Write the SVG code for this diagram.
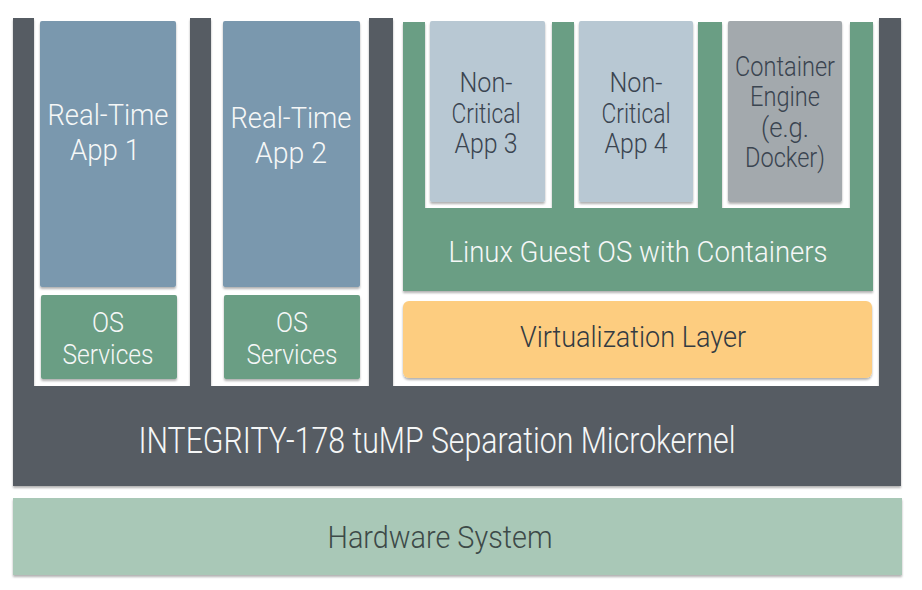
<svg xmlns="http://www.w3.org/2000/svg" width="922" height="590" viewBox="0 0 922 590">
  <defs>
    <filter id="sh" x="-5%" y="-5%" width="110%" height="115%">
      <feDropShadow dx="0" dy="2" stdDeviation="1.3" flood-color="#000" flood-opacity="0.3"/>
    </filter>
    <style>
      text { font-family: Roboto, "Liberation Sans", Arial, sans-serif; font-weight: 300; text-anchor: middle; }
      .w { fill: #f5f7f7; }
      .d { fill: #3a4450; }
      .rt { fill: #7a98ae; }
      .os { fill: #6a9e84; }
      .nc { fill: #b8c8d3; }
      .ce { fill: #a3a9ad; }
    </style>
  </defs>
  <rect x="0" y="0" width="922" height="590" fill="#ffffff"/>

  <g id="hardware">
    <rect x="13" y="498" width="889" height="77" fill="#a9c8b7" filter="url(#sh)"/>
    <text x="440" y="548" font-size="32" fill="#3d4a48" textLength="225" lengthAdjust="spacingAndGlyphs">Hardware System</text>
  </g>

  <g id="kernel">
    <path d="M13,18 H34 V386 H190 V18 H211 V386 H369 V18 H393 V386 H879 V18 H901 V486 H13 Z" fill="#565c64" filter="url(#sh)"/>
    <text class="w" x="437" y="453" font-size="37" textLength="597" lengthAdjust="spacingAndGlyphs">INTEGRITY-178 tuMP Separation Microkernel</text>
  </g>

  <g id="rt-app-1">
    <rect class="rt" x="40" y="21" width="136" height="266" rx="2" filter="url(#sh)"/>
    <text class="w" x="108" y="125" font-size="30" textLength="121" lengthAdjust="spacingAndGlyphs">Real-Time</text>
    <text class="w" x="105" y="160" font-size="30" textLength="70" lengthAdjust="spacingAndGlyphs">App 1</text>
  </g>
  <g id="os-services-1">
    <rect class="os" x="41" y="295" width="136" height="84" rx="2" filter="url(#sh)"/>
    <text class="w" x="108" y="332" font-size="27" textLength="32" lengthAdjust="spacingAndGlyphs">OS</text>
    <text class="w" x="108" y="364" font-size="27" textLength="91" lengthAdjust="spacingAndGlyphs">Services</text>
  </g>

  <g id="rt-app-2">
    <rect class="rt" x="223" y="21" width="137" height="266" rx="2" filter="url(#sh)"/>
    <text class="w" x="291" y="128" font-size="30" textLength="121" lengthAdjust="spacingAndGlyphs">Real-Time</text>
    <text class="w" x="291" y="163" font-size="30" textLength="72" lengthAdjust="spacingAndGlyphs">App 2</text>
  </g>
  <g id="os-services-2">
    <rect class="os" x="224" y="295" width="136" height="84" rx="2" filter="url(#sh)"/>
    <text class="w" x="292" y="332" font-size="27" textLength="32" lengthAdjust="spacingAndGlyphs">OS</text>
    <text class="w" x="292" y="364" font-size="27" textLength="91" lengthAdjust="spacingAndGlyphs">Services</text>
  </g>

  <g id="linux-guest-os">
    <path d="M403,22 H425 V208 H552 V22 H574 V208 H698 V22 H722 V208 H850 V22 H873 V291 H403 Z" fill="#6a9e84" filter="url(#sh)"/>
    <text class="w" x="638" y="262" font-size="30" textLength="379" lengthAdjust="spacingAndGlyphs">Linux Guest OS with Containers</text>
  </g>

  <g id="non-critical-app-3">
    <rect class="nc" x="430" y="21" width="115" height="181" rx="2" filter="url(#sh)"/>
    <text class="d" x="486" y="92" font-size="28" textLength="53" lengthAdjust="spacingAndGlyphs">Non-</text>
    <text class="d" x="486" y="123" font-size="28" textLength="69" lengthAdjust="spacingAndGlyphs">Critical</text>
    <text class="d" x="486" y="153" font-size="28" textLength="63" lengthAdjust="spacingAndGlyphs">App 3</text>
  </g>

  <g id="non-critical-app-4">
    <rect class="nc" x="579" y="21" width="114" height="181" rx="2" filter="url(#sh)"/>
    <text class="d" x="636" y="92" font-size="28" textLength="53" lengthAdjust="spacingAndGlyphs">Non-</text>
    <text class="d" x="636" y="123" font-size="28" textLength="69" lengthAdjust="spacingAndGlyphs">Critical</text>
    <text class="d" x="636" y="153" font-size="28" textLength="63" lengthAdjust="spacingAndGlyphs">App 4</text>
  </g>

  <g id="container-engine">
    <rect class="ce" x="728" y="21" width="114" height="181" rx="2" filter="url(#sh)"/>
    <text class="d" x="785" y="76" font-size="28" textLength="100" lengthAdjust="spacingAndGlyphs">Container</text>
    <text class="d" x="785" y="106" font-size="28" textLength="70" lengthAdjust="spacingAndGlyphs">Engine</text>
    <text class="d" x="785" y="137" font-size="28" textLength="48" lengthAdjust="spacingAndGlyphs">(e.g.</text>
    <text class="d" x="785" y="167" font-size="28" textLength="80" lengthAdjust="spacingAndGlyphs">Docker)</text>
  </g>

  <g id="virtualization-layer">
    <rect x="403" y="301" width="469" height="77" rx="6" fill="#fdcd80" filter="url(#sh)"/>
    <text x="633" y="347" font-size="30" fill="#333b42" textLength="226" lengthAdjust="spacingAndGlyphs">Virtualization Layer</text>
  </g>

  <g id="connectors"/>
</svg>
